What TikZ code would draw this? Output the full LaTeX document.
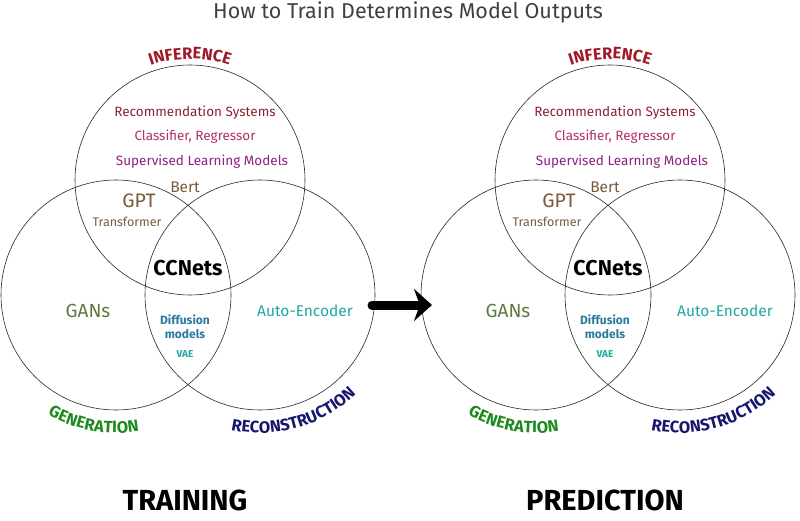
\documentclass[tikz,border=0pt]{standalone}
\usepackage{fontspec}
\setmainfont{Fira Sans}
\usetikzlibrary{decorations.text,arrows.meta}
\definecolor{infc}{HTML}{A01828}
\definecolor{genc}{HTML}{1E8A1E}
\definecolor{recc}{HTML}{16166E}
\definecolor{recm}{HTML}{8C2230}
\definecolor{clsc}{HTML}{B0306A}
\definecolor{supc}{HTML}{8E2080}
\definecolor{brnc}{HTML}{7A5A3A}
\definecolor{ganc}{HTML}{5E7A40}
\definecolor{difc}{HTML}{2A7AA0}
\definecolor{aec}{HTML}{20A8A0}
\begin{document}
\begin{tikzpicture}[x=1pt,y=1pt,
  circ/.style={draw=black!85,line width=0.6pt},
  lbl/.style={inner sep=0pt,font=\fontsize{13.5}{14}\selectfont}]
\useasboundingbox (0,0) rectangle (800,520);
\node[lbl,font=\fontsize{21.5}{22}\selectfont,text=black!75] (title) at (408,508) {How to Train Determines Model Outputs};
\foreach \o/\nm in {0/TRAINING,420/PREDICTION}{
\begin{scope}[xshift=\o]
\draw[circ] (190,340) circle (115);
\draw[circ] (116,225) circle (115);
\draw[circ] (260,225) circle (115);
\path[decorate,decoration={text along path,text align=center,text color=infc,
  text={|\fontsize{16.5}{17}\selectfont\bfseries|INFERENCE}}] (190,340) ++(135:121) arc (135:45:121);
\path[decorate,decoration={text along path,text align=center,text color=genc,
  text={|\fontsize{16.5}{17}\selectfont\bfseries|GENERATION}}] (116,225) ++(222:138) arc (222:298:138);
\path[decorate,decoration={text along path,text align=center,text color=recc,
  text={|\fontsize{16.5}{17}\selectfont\bfseries|RECONSTRUCTION}}] (260,225) ++(236:138) arc (236:336:138);
\node[lbl,text=recm] (rs) at (195,407) {Recommendation Systems};
\node[lbl,text=clsc] (cl) at (195,383) {Classifier, Regressor};
\node[lbl,text=supc] (sl) at (202,358) {Supervised Learning Models};
\node[lbl,text=brnc,font=\fontsize{15.5}{16}\selectfont] (bert) at (185,333) {Bert};
\node[lbl,text=brnc,font=\fontsize{19.5}{20}\selectfont] (gpt) at (139,319) {GPT};
\node[lbl,text=brnc,font=\fontsize{12.5}{13}\selectfont] (tr) at (127,298) {Transformer};
\node[lbl,font=\fontsize{21.5}{22}\selectfont\bfseries] (cc) at (188,252) {CCNets};
\node[lbl,text=ganc,font=\fontsize{19}{19}\selectfont] (gan) at (88,209) {GANs};
\node[lbl,text=difc,font=\fontsize{12}{14}\selectfont\bfseries,align=center] (dif) at (185,193) {Diffusion\\models};
\node[lbl,text=aec,font=\fontsize{10}{10}\selectfont\bfseries] (vae) at (185,166) {VAE};
\node[lbl,text=aec,font=\fontsize{15.5}{16}\selectfont] (ae) at (305,209) {Auto-Encoder};
\node[lbl,font=\fontsize{29}{29}\selectfont\bfseries] (big) at (185,20) {\nm};
\end{scope}}
\coordinate (a1) at (372,215);
\coordinate (a2) at (432,215);
\draw[line width=9pt,line cap=round,-{Stealth[length=18pt,width=32pt]}] (a1) -- (a2);
\end{tikzpicture}
\end{document}
